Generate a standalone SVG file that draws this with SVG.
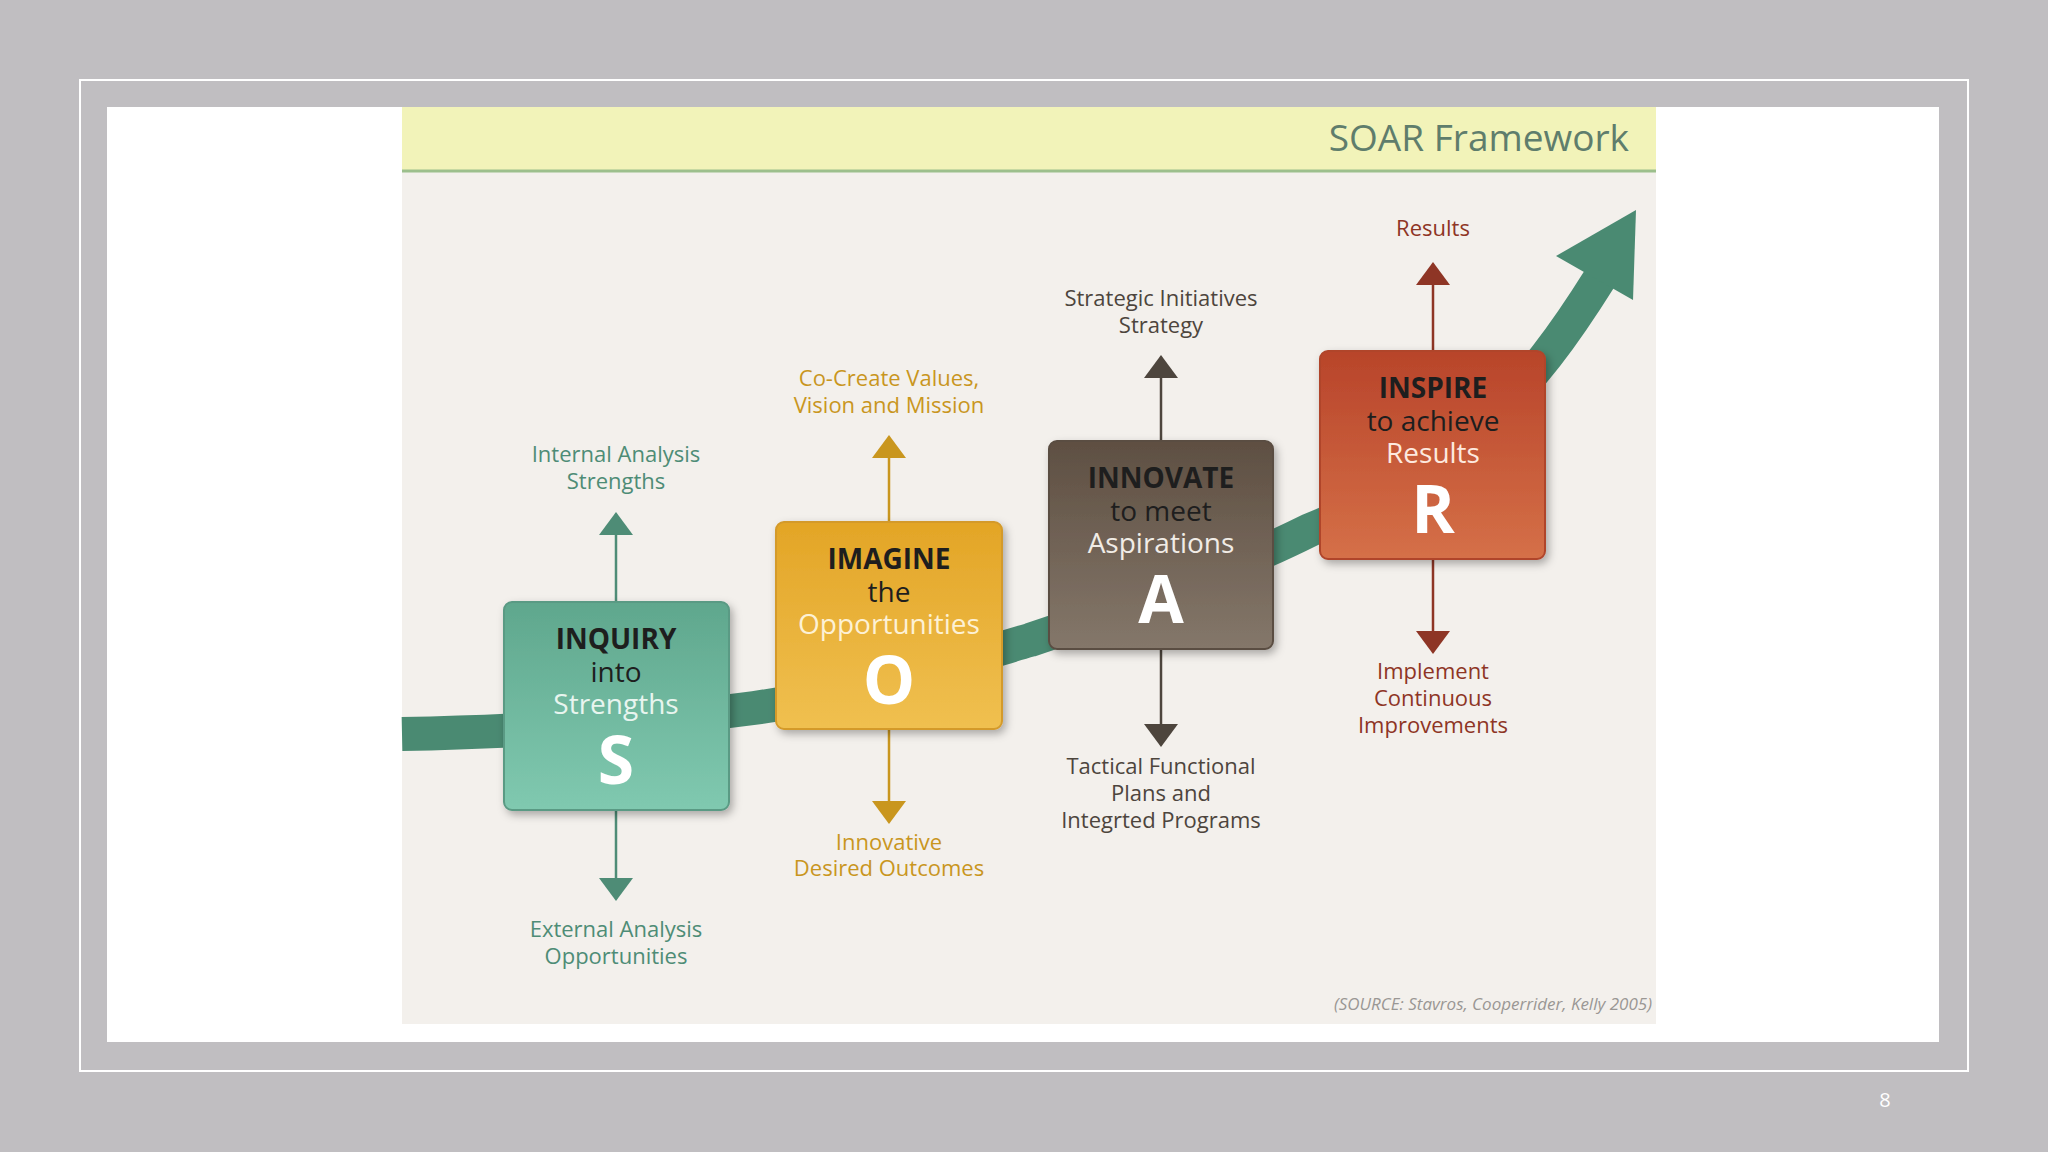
<svg xmlns="http://www.w3.org/2000/svg" width="2048" height="1152" viewBox="0 0 2048 1152">
<defs>
<style>
text{font-family:"Open Sans","Liberation Sans",sans-serif;text-anchor:middle}
.lbl{font-size:22px}
.t1{font-size:28px;font-weight:bold;fill:#1e1e1e}
.t2{font-size:28px}
.big{font-size:66px;font-weight:bold;fill:#fff}
.box{stroke-width:2}
</style>
<linearGradient id="gS" x1="0" y1="0" x2="0" y2="1"><stop offset="0" stop-color="#5fa78d"/><stop offset="1" stop-color="#80c9b0"/></linearGradient>
<linearGradient id="gO" x1="0" y1="0" x2="0" y2="1"><stop offset="0" stop-color="#e3a526"/><stop offset="1" stop-color="#f0c050"/></linearGradient>
<linearGradient id="gA" x1="0" y1="0" x2="0" y2="1"><stop offset="0" stop-color="#5e4f42"/><stop offset="1" stop-color="#84776a"/></linearGradient>
<linearGradient id="gR" x1="0" y1="0" x2="0" y2="1"><stop offset="0" stop-color="#b8442a"/><stop offset="1" stop-color="#d57048"/></linearGradient>
<filter id="sh" x="-10%" y="-10%" width="130%" height="130%"><feDropShadow dx="3" dy="4" stdDeviation="4" flood-opacity="0.3"/></filter>
</defs>
<rect width="2048" height="1152" fill="#c0bec1"/>
<rect x="80" y="80" width="1888" height="991" fill="none" stroke="#fff" stroke-width="2"/>
<rect x="107" y="107" width="1832" height="935" fill="#fff"/>
<rect x="402" y="107" width="1254" height="917" fill="#f3f0ec"/>
<rect x="402" y="107" width="1254" height="64" fill="#f2f3b9"/>
<line x1="402" y1="171" x2="1656" y2="171" stroke="#9cbf8c" stroke-width="3"/>
<text x="1629" y="151" style="font-size:37px;text-anchor:end;fill:#5f7d6c">SOAR Framework</text>
<g id="connectors">
<path d="M402,734 C500,732 600,728 754,708 C880,690 960,660 1030,640 C1150,600 1250,560 1310,530 C1460,470 1530,390 1600,278" fill="none" stroke="#4a8a72" stroke-width="34"/>
<polygon points="1636,210 1633,300 1556,256" fill="#4a8a72"/>
<g stroke-width="2.5">
<line x1="616" y1="602" x2="616" y2="530" stroke="#4e8c76"/><polygon points="616,512 599,535 633,535" fill="#4e8c76"/>
<line x1="616" y1="810" x2="616" y2="880" stroke="#4e8c76"/><polygon points="616,901 599,878 633,878" fill="#4e8c76"/>
<line x1="889" y1="522" x2="889" y2="452" stroke="#c9961e"/><polygon points="889,435 872,458 906,458" fill="#c9961e"/>
<line x1="889" y1="729" x2="889" y2="805" stroke="#c9961e"/><polygon points="889,824 872,801 906,801" fill="#c9961e"/>
<line x1="1161" y1="441" x2="1161" y2="372" stroke="#4d453d"/><polygon points="1161,355 1144,378 1178,378" fill="#4d453d"/>
<line x1="1161" y1="649" x2="1161" y2="728" stroke="#4d453d"/><polygon points="1161,747 1144,724 1178,724" fill="#4d453d"/>
<line x1="1433" y1="351" x2="1433" y2="280" stroke="#8e3525"/><polygon points="1433,262 1416,285 1450,285" fill="#8e3525"/>
<line x1="1433" y1="559" x2="1433" y2="636" stroke="#8e3525"/><polygon points="1433,654 1416,631 1450,631" fill="#8e3525"/>
</g>
</g>
<g id="S"><rect class="box" x="504" y="602" width="225" height="208" rx="8" fill="url(#gS)" stroke="#5a9a84" filter="url(#sh)"/>
<text class="t1" x="616" y="649">INQUIRY</text><text class="t2" x="616" y="682" fill="#1e1e1e">into</text><text class="t2" x="616" y="714" fill="#e8f5ef">Strengths</text><text class="big" x="616" y="784">S</text></g>
<g id="O"><rect class="box" x="776" y="522" width="226" height="207" rx="8" fill="url(#gO)" stroke="#d49a2a" filter="url(#sh)"/>
<text class="t1" x="889" y="569">IMAGINE</text><text class="t2" x="889" y="602" fill="#1e1e1e">the</text><text class="t2" x="889" y="634" fill="#fdf1d5">Opportunities</text><text class="big" x="889" y="704">O</text></g>
<g id="A"><rect class="box" x="1049" y="441" width="224" height="208" rx="8" fill="url(#gA)" stroke="#5a4d42" filter="url(#sh)"/>
<text class="t1" x="1161" y="488">INNOVATE</text><text class="t2" x="1161" y="521" fill="#1e1e1e">to meet</text><text class="t2" x="1161" y="553" fill="#f1ece6">Aspirations</text><text class="big" x="1161" y="623">A</text></g>
<g id="R"><rect class="box" x="1320" y="351" width="225" height="208" rx="8" fill="url(#gR)" stroke="#b0452c" filter="url(#sh)"/>
<text class="t1" x="1433" y="398">INSPIRE</text><text class="t2" x="1433" y="431" fill="#1e1e1e">to achieve</text><text class="t2" x="1433" y="463" fill="#fde9df">Results</text><text class="big" x="1433" y="533">R</text></g>
<g id="labels">
<text class="lbl" x="616" y="462" fill="#4e8c76">Internal Analysis</text><text class="lbl" x="616" y="489" fill="#4e8c76">Strengths</text>
<text class="lbl" x="616" y="937" fill="#4e8c76">External Analysis</text><text class="lbl" x="616" y="964" fill="#4e8c76">Opportunities</text>
<text class="lbl" x="889" y="386" fill="#c9961e">Co-Create Values,</text><text class="lbl" x="889" y="413" fill="#c9961e">Vision and Mission</text>
<text class="lbl" x="889" y="850" fill="#c9961e">Innovative</text><text class="lbl" x="889" y="876" fill="#c9961e">Desired Outcomes</text>
<text class="lbl" x="1161" y="306" fill="#4d453d">Strategic Initiatives</text><text class="lbl" x="1161" y="333" fill="#4d453d">Strategy</text>
<text class="lbl" x="1161" y="774" fill="#4d453d">Tactical Functional</text><text class="lbl" x="1161" y="801" fill="#4d453d">Plans and</text><text class="lbl" x="1161" y="828" fill="#4d453d">Integrted Programs</text>
<text class="lbl" x="1433" y="236" fill="#8e3525">Results</text>
<text class="lbl" x="1433" y="679" fill="#8e3525">Implement</text><text class="lbl" x="1433" y="706" fill="#8e3525">Continuous</text><text class="lbl" x="1433" y="733" fill="#8e3525">Improvements</text>
<text x="1652" y="1010" style="font-size:17px;font-style:italic;text-anchor:end;fill:#9a9794">(SOURCE:  Stavros, Cooperrider, Kelly 2005)</text>
<text x="1885" y="1107" style="font-size:20px;fill:#fff">8</text>
</g>
</svg>
